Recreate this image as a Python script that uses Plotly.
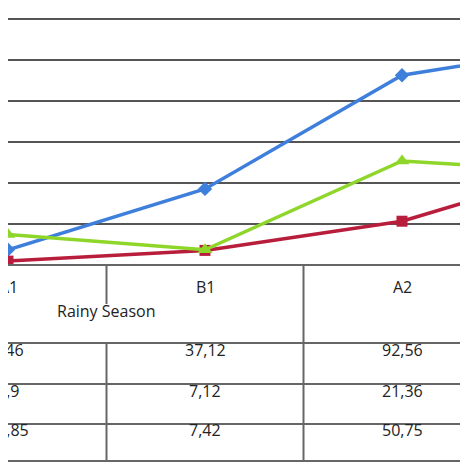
import plotly.graph_objects as go

categories = ["A1", "B1", "A2", "B2"]
seasons = ["Rainy Season", "Dry Season"]
blue_vals = [7.46, 37.12, 92.56, 108.0]
red_vals = [1.9, 7.12, 21.36, 50.0]
green_vals = [14.85, 7.42, 50.75, 45.0]

series = [
    (blue_vals, "#3f7fdc", "diamond", 11),
    (red_vals, "#b81e3c", "square", 11),
    (green_vals, "#8fd62a", "triangle-up", 13),
]

OFF = 7  # page offset of the figure in the browser
H = 468

x = list(range(len(categories)))
fig = go.Figure()
for vals, col, sym, ms in series:
    fig.add_trace(go.Scatter(x=x, y=vals, mode="lines+markers",
                             line=dict(color=col, width=3.5),
                             marker=dict(symbol=sym, size=ms, color=col)))

base = 264 - OFF
fig.update_layout(
    width=468, height=H, margin=dict(l=0, r=0, t=0, b=0),
    paper_bgcolor="white", plot_bgcolor="white", showlegend=False,
    xaxis=dict(range=[0, 468 / 197], showgrid=False, showticklabels=False,
               zeroline=False, domain=[0, 1]),
    yaxis=dict(range=[0, base / 2.05], dtick=20, showgrid=True, gridcolor="#555",
               gridwidth=2, showticklabels=False, zeroline=False,
               domain=[1 - base / H, 1]),
)

def py(px):
    return 1 - (px - OFF) / H

font = dict(family="Open Sans", size=16, color="#222")
line = dict(color="#666", width=2)
for ypx in [264, 342, 383, 423, 460]:
    fig.add_shape(type="line", xref="paper", yref="paper", x0=0, x1=1,
                  y0=py(ypx), y1=py(ypx), line=line)
fig.add_shape(type="line", xref="x", yref="paper", x0=0.5, x1=0.5,
              y0=py(264), y1=py(303), line=line)
fig.add_shape(type="line", xref="x", yref="paper", x0=0.5, x1=0.5,
              y0=py(342), y1=py(460), line=line)
fig.add_shape(type="line", xref="x", yref="paper", x0=1.5, x1=1.5,
              y0=py(264), y1=py(460), line=line)

for i, c in enumerate(categories):
    fig.add_annotation(x=i, y=py(286), xref="x", yref="paper", text=c,
                       showarrow=False, font=font)
for j, s in enumerate(seasons):
    fig.add_annotation(x=2 * j + 0.5, y=py(323), xref="x", yref="paper", text=s,
                       showarrow=False, font=font)
for r, (vals, _, _, _) in enumerate(series):
    for i, v in enumerate(vals[:3]):
        fig.add_annotation(x=i, y=py([362, 403, 442][r]), xref="x", yref="paper",
                           text=f"{v:g}".replace(".", ","), showarrow=False, font=font)

fig.write_html("out.html")
